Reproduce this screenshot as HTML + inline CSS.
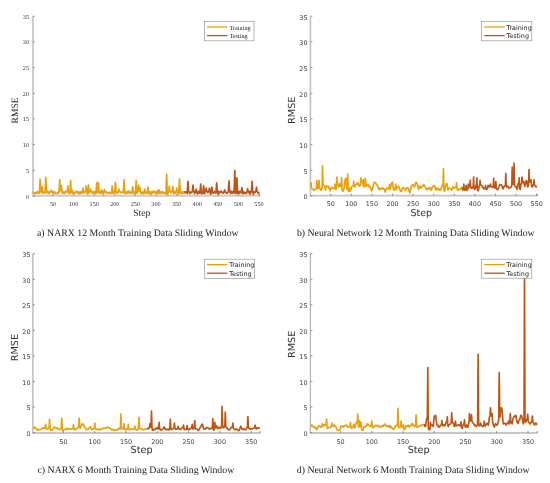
<!DOCTYPE html>
<html lang="en"><head><meta charset="utf-8"><title>RMSE sliding window figure</title>
<style>
html,body{margin:0;padding:0;background:#fff}
body{width:550px;height:483px;overflow:hidden}
svg{display:block}
text{text-rendering:geometricPrecision}
</style></head><body>
<svg width="550" height="483" viewBox="0 0 550 483">
<defs><filter id="soft" x="-5%" y="-5%" width="110%" height="110%" filterUnits="objectBoundingBox"><feGaussianBlur stdDeviation="0.3"/></filter></defs>
<rect width="550" height="483" fill="#fff"/>
<g id="plot-a">
<path d="M32.9 16.2V195.7H260.1" fill="none" stroke="#cbcbcb" stroke-width="1.9"/>
<path d="M32.9 196.0h2M32.9 170.3h2M32.9 144.6h2M32.9 118.9h2M32.9 93.3h2M32.9 67.6h2M32.9 41.9h2M32.9 16.2h2M53.0 195.7v-2M73.6 195.7v-2M94.2 195.7v-2M114.8 195.7v-2M135.4 195.7v-2M156.0 195.7v-2M176.6 195.7v-2M197.2 195.7v-2M217.8 195.7v-2M238.4 195.7v-2M259.0 195.7v-2M259.7 195.7v-2" fill="none" stroke="#6a6a6a" stroke-width="0.7"/>
<g style="font-family:'Liberation Serif','DejaVu Serif',serif;font-size:6.2px" fill="#2e2e2e">
<text x="29.0" y="198.5" text-anchor="end">0</text>
<text x="29.0" y="172.8" text-anchor="end">5</text>
<text x="29.0" y="147.1" text-anchor="end">10</text>
<text x="29.0" y="121.4" text-anchor="end">15</text>
<text x="29.0" y="95.8" text-anchor="end">20</text>
<text x="29.0" y="70.1" text-anchor="end">25</text>
<text x="29.0" y="44.4" text-anchor="end">30</text>
<text x="29.0" y="18.7" text-anchor="end">35</text>
<text x="53.0" y="206.0" text-anchor="middle">50</text>
<text x="73.6" y="206.0" text-anchor="middle">100</text>
<text x="94.2" y="206.0" text-anchor="middle">150</text>
<text x="114.8" y="206.0" text-anchor="middle">200</text>
<text x="135.4" y="206.0" text-anchor="middle">250</text>
<text x="156.0" y="206.0" text-anchor="middle">300</text>
<text x="176.6" y="206.0" text-anchor="middle">350</text>
<text x="197.2" y="206.0" text-anchor="middle">400</text>
<text x="217.8" y="206.0" text-anchor="middle">450</text>
<text x="238.4" y="206.0" text-anchor="middle">500</text>
<text x="259.0" y="206.0" text-anchor="middle">550</text>
</g>
<text x="141.8" y="215.9" text-anchor="middle" style="font-family:'Liberation Serif','DejaVu Serif',serif;font-size:9.6px" fill="#1e1e1e">Step</text>
<text transform="translate(18.1 110.4) rotate(-90)" text-anchor="middle" style="font-family:'Liberation Serif','DejaVu Serif',serif;font-size:9.6px" fill="#1e1e1e">RMSE</text>
<polyline points="32.9,192.9 33.4,192.1 33.8,192.4 34.3,193.6 34.7,193.6 35.2,193.6 35.6,192.7 36.1,193.4 36.5,192.2 37.0,192.3 37.4,192.6 37.9,191.6 38.3,193.4 38.8,193.0 39.2,193.3 39.6,189.2 40.1,179.3 40.6,189.9 41.0,192.2 41.5,192.4 41.8,191.0 42.3,186.5 42.8,191.4 43.3,193.6 43.7,192.1 44.2,193.0 44.6,192.6 45.1,191.8 45.2,188.7 45.8,177.3 46.3,189.5 46.4,193.1 46.9,192.4 47.3,191.9 47.8,191.3 48.2,192.7 48.7,193.4 49.1,193.6 49.6,191.8 50.0,191.6 50.5,192.0 51.0,191.9 51.5,190.1 52.0,192.1 52.3,192.3 52.7,191.7 53.2,192.6 53.6,193.6 54.1,192.1 54.5,191.7 55.0,192.8 55.4,193.7 55.9,193.3 56.3,193.6 56.8,193.4 57.2,192.8 57.7,193.5 58.1,192.4 58.6,191.7 59.0,193.0 59.2,189.4 59.8,179.8 60.3,190.0 60.8,190.8 61.3,185.5 61.8,191.2 62.2,192.8 62.6,191.4 63.1,193.3 63.5,193.2 64.0,192.3 64.4,193.7 64.9,192.8 65.3,191.4 65.8,192.5 66.2,192.1 66.7,191.5 67.1,191.6 67.2,190.9 67.8,186.0 68.3,191.3 68.5,192.8 68.9,193.5 69.4,193.6 69.8,193.2 70.0,189.5 70.6,180.4 71.1,190.1 71.6,192.9 71.8,191.9 72.3,190.1 72.8,192.1 73.0,193.7 73.4,193.5 73.9,193.7 74.3,192.2 74.8,193.1 75.2,192.8 75.7,191.6 76.2,192.2 76.7,191.1 77.2,192.3 77.5,192.6 77.9,193.5 78.4,192.9 78.8,191.7 79.3,193.7 79.7,192.4 80.2,193.7 80.6,192.4 81.1,191.6 81.5,193.1 82.0,193.3 82.5,191.4 83.0,188.1 83.5,191.7 83.8,192.4 84.2,192.9 84.7,191.7 85.1,191.6 85.6,191.7 85.7,190.9 86.2,186.0 86.8,191.3 86.9,193.2 87.4,194.1 87.8,193.7 88.0,190.6 88.5,185.0 89.0,191.1 89.2,193.1 89.6,191.4 89.9,191.7 90.4,189.1 91.0,191.9 91.4,191.4 91.9,191.4 92.3,193.2 92.8,193.2 93.2,192.2 93.7,191.7 94.1,192.1 94.6,193.5 95.0,191.5 95.5,191.9 95.9,193.3 96.2,190.1 96.7,182.9 97.2,190.6 97.7,192.9 97.9,190.1 98.4,182.9 99.0,190.6 99.1,191.3 99.5,192.7 100.0,191.9 100.4,193.4 100.9,191.5 101.0,191.9 101.6,189.9 102.1,192.0 102.2,193.4 102.7,191.3 103.1,192.9 103.6,194.7 103.9,191.8 104.4,189.6 105.0,192.0 105.4,191.3 105.8,192.4 106.3,192.7 106.7,191.7 107.2,193.1 107.6,193.1 108.1,193.1 108.5,193.4 109.0,192.9 109.4,192.3 109.9,192.7 110.3,192.5 110.8,193.7 111.2,192.6 111.7,190.9 112.2,186.0 112.8,191.3 113.0,193.7 113.5,193.3 113.9,191.9 114.4,192.9 114.9,190.0 115.4,182.4 116.0,190.5 116.2,192.4 116.6,193.5 117.1,193.1 117.5,191.8 118.0,192.3 118.5,191.7 119.0,189.1 119.5,191.9 119.8,191.5 120.2,192.2 120.7,192.5 121.1,192.6 121.6,192.6 122.0,192.0 122.5,191.4 122.9,192.4 123.4,191.7 123.5,189.4 124.1,179.8 124.6,190.0 124.7,193.4 125.2,193.6 125.6,193.6 126.1,191.8 126.5,193.4 127.0,192.1 127.4,191.6 127.9,193.2 128.0,192.2 128.5,191.1 129.1,192.3 129.2,192.7 129.7,191.3 130.1,193.3 130.6,192.5 131.0,193.2 131.5,193.2 131.9,192.4 132.0,191.0 132.6,186.5 133.2,191.4 133.3,193.7 133.7,192.2 134.2,193.6 134.6,191.8 135.1,193.5 135.5,193.6 135.6,189.6 136.2,180.6 136.8,190.2 136.9,193.1 137.3,192.7 137.8,191.7 138.1,190.6 138.7,185.0 139.2,191.1 139.4,191.3 140.0,187.6 140.6,191.6 140.9,193.4 141.4,192.3 141.8,193.5 142.3,192.0 142.7,193.6 143.2,192.2 143.6,193.5 144.1,193.6 144.2,191.7 144.8,189.1 145.4,191.9 145.4,192.6 145.9,192.4 146.3,193.1 146.8,192.4 147.2,193.5 147.4,191.2 148.0,187.0 148.6,191.5 149.0,193.6 149.5,193.0 149.9,191.9 150.4,192.5 150.8,194.2 151.2,194.4 151.7,191.9 152.1,193.3 152.6,191.4 153.0,191.7 153.5,192.5 153.9,192.8 154.0,192.2 154.6,191.1 155.2,192.3 155.3,192.0 155.7,192.9 156.2,192.0 156.6,192.7 157.1,193.6 157.2,191.9 157.8,190.1 158.4,192.1 158.4,193.6 158.5,191.9 159.1,190.1 159.7,192.1 159.8,193.1 160.2,193.5 160.7,191.6 161.1,193.0 161.6,193.0 162.0,193.3 162.5,193.1 162.9,191.3 163.4,193.1 163.8,193.0 164.3,193.7 164.7,192.6 165.2,193.2 165.6,193.7 166.1,193.5 166.1,188.0 166.7,174.2 167.2,188.9 167.4,194.9 167.9,193.0 168.3,192.3 168.8,190.9 169.3,186.0 169.9,191.3 170.1,191.9 170.6,192.0 171.0,192.8 171.5,191.3 171.9,191.9 172.2,191.0 172.8,186.5 173.4,191.4 173.7,193.6 174.2,191.5 174.6,191.9 175.1,193.4 175.5,192.5 176.0,191.7 176.1,191.4 176.7,188.1 177.2,191.7 177.3,192.3 177.8,192.0 178.2,194.4 178.7,193.4 178.9,189.1 179.5,178.8 180.1,189.8 180.5,193.5 180.9,192.4 181.4,192.2 181.8,193.8 182.3,191.8 182.7,192.5 183.2,192.1 183.6,191.9 184.1,193.5 184.5,192.1" fill="none" stroke="#ECA008" stroke-width="1.65" stroke-linejoin="round" stroke-linecap="butt" filter="url(#soft)"/>
<polyline points="184.5,192.1 184.5,191.9 185.0,191.9 185.4,192.5 185.9,192.6 186.3,191.8 186.8,192.1 187.2,193.4 187.4,189.8 188.0,181.4 188.6,190.3 189.0,191.9 189.5,193.6 189.9,193.6 190.4,192.1 190.8,192.1 191.3,192.5 191.7,192.6 192.2,191.5 192.4,190.6 193.0,185.0 193.6,191.1 194.0,191.3 194.4,193.7 194.9,191.7 195.3,192.6 195.7,191.7 196.2,189.1 196.8,191.9 197.1,193.2 197.6,193.2 198.0,193.4 198.5,191.4 198.9,191.7 199.4,191.5 199.8,193.2 200.1,190.4 200.7,184.0 201.2,190.9 201.6,193.8 202.1,193.7 202.5,192.6 203.0,193.4 203.0,190.8 203.6,185.5 204.2,191.2 204.3,193.0 204.8,193.7 205.2,191.7 205.6,191.4 206.2,188.1 206.8,191.7 207.0,191.4 207.5,191.5 207.9,192.8 208.4,191.3 208.8,191.4 209.4,188.1 210.0,191.7 210.2,192.8 210.6,194.3 211.1,193.5 211.3,191.2 211.9,187.0 212.5,191.5 212.9,193.0 213.3,193.1 213.8,192.5 214.2,192.8 214.7,191.6 215.1,192.2 215.6,191.4 216.0,193.2 216.1,190.1 216.7,182.9 217.2,190.6 217.4,191.9 217.8,191.9 218.3,194.3 218.7,191.4 219.2,192.6 219.6,193.0 220.1,191.3 220.5,192.1 220.9,192.2 221.5,191.1 222.1,192.3 222.3,192.4 222.8,193.3 223.2,193.2 223.7,192.5 224.0,191.9 224.6,189.9 225.2,192.0 225.5,191.5 225.9,192.6 226.4,193.3 226.8,192.9 227.3,193.1 227.7,192.3 228.2,191.9 228.4,189.6 229.0,180.9 229.6,190.2 230.0,192.7 230.4,192.8 230.9,193.6 231.3,191.3 231.8,192.5 232.2,191.6 232.7,193.1 233.1,192.7 233.6,191.4 234.0,192.9 234.2,187.1 234.8,170.6 235.4,188.2 235.8,193.7 236.3,191.5 236.3,188.9 236.9,177.8 237.5,189.6 237.6,193.6 238.1,192.8 238.5,191.7 239.0,191.3 239.4,193.5 239.9,192.4 240.3,191.4 240.8,192.1 241.2,192.6 241.3,191.3 241.9,187.6 242.5,191.6 242.6,193.6 243.0,193.2 243.5,192.1 243.9,193.4 244.4,192.2 244.8,193.5 245.3,192.4 245.7,192.8 246.2,193.5 246.6,193.0 247.0,191.5 247.6,188.6 248.2,191.8 248.4,191.4 248.9,191.6 249.3,193.2 249.8,191.4 250.2,194.3 250.7,192.5 251.1,192.7 251.5,189.8 252.1,181.4 252.7,190.3 252.9,192.1 253.4,194.5 253.8,192.9 254.3,192.0 254.7,191.8 255.2,192.5 255.6,191.3 255.9,191.2 256.5,187.0 257.1,191.5 257.4,191.7 257.9,193.2 258.3,193.0 258.8,192.5 259.2,193.2" fill="none" stroke="#BE5512" stroke-width="1.65" stroke-linejoin="round" stroke-linecap="butt" filter="url(#soft)"/>
<rect x="204.3" y="21.6" width="49.7" height="19.2" fill="#fff" stroke="#8a8a8a" stroke-width="0.6"/>
<path d="M207.0 27.0h20.4" stroke="#ECA008" stroke-width="1.3"/>
<path d="M207.0 35.6h20.4" stroke="#BE5512" stroke-width="1.3"/>
<text x="229.5" y="29.5" style="font-family:'Liberation Serif','DejaVu Serif',serif;font-size:6.2px" fill="#222">Training</text>
<text x="229.5" y="38.1" style="font-family:'Liberation Serif','DejaVu Serif',serif;font-size:6.2px" fill="#222">Testing</text>
<text x="37.0" y="235.8" style="font-family:'Liberation Serif','DejaVu Serif',serif;font-size:9.8px" fill="#1a1a1a">a) NARX 12 Month Training Data Sliding Window</text>
</g>
<g id="plot-b">
<path d="M310.4 16.2V195.7H537.5" fill="none" stroke="#c4c4c4" stroke-width="1.7"/>
<path d="M310.4 196.0h2M310.4 170.3h2M310.4 144.6h2M310.4 118.9h2M310.4 93.3h2M310.4 67.6h2M310.4 41.9h2M310.4 16.2h2M330.7 195.7v-2M351.3 195.7v-2M371.9 195.7v-2M392.5 195.7v-2M413.1 195.7v-2M433.7 195.7v-2M454.3 195.7v-2M474.9 195.7v-2M495.5 195.7v-2M516.1 195.7v-2M536.7 195.7v-2M537.1 195.7v-2" fill="none" stroke="#6a6a6a" stroke-width="0.7"/>
<g style="font-family:'DejaVu Sans','Liberation Sans',sans-serif;font-size:6.4px" fill="#3a3a3a">
<text x="307.5" y="199.3" text-anchor="end">0</text>
<text x="307.5" y="173.6" text-anchor="end">5</text>
<text x="307.5" y="147.9" text-anchor="end">10</text>
<text x="307.5" y="122.2" text-anchor="end">15</text>
<text x="307.5" y="96.6" text-anchor="end">20</text>
<text x="307.5" y="70.9" text-anchor="end">25</text>
<text x="307.5" y="45.2" text-anchor="end">30</text>
<text x="307.5" y="19.5" text-anchor="end">35</text>
<text x="330.7" y="205.9" text-anchor="middle">50</text>
<text x="351.3" y="205.9" text-anchor="middle">100</text>
<text x="371.9" y="205.9" text-anchor="middle">150</text>
<text x="392.5" y="205.9" text-anchor="middle">200</text>
<text x="413.1" y="205.9" text-anchor="middle">250</text>
<text x="433.7" y="205.9" text-anchor="middle">300</text>
<text x="454.3" y="205.9" text-anchor="middle">350</text>
<text x="474.9" y="205.9" text-anchor="middle">400</text>
<text x="495.5" y="205.9" text-anchor="middle">450</text>
<text x="516.1" y="205.9" text-anchor="middle">500</text>
<text x="536.7" y="205.9" text-anchor="middle">550</text>
</g>
<text x="421.3" y="216.1" text-anchor="middle" style="font-family:'DejaVu Sans','Liberation Sans',sans-serif;font-size:9.5px" fill="#333">Step</text>
<text transform="translate(295.4 110.2) rotate(-90)" text-anchor="middle" style="font-family:'DejaVu Sans','Liberation Sans',sans-serif;font-size:9.7px" fill="#333">RMSE</text>
<polyline points="310.8,185.5 311.1,182.9 311.5,188.5 312.3,188.8 313.0,189.3 313.5,189.5 314.0,190.4 314.5,189.3 315.0,189.5 315.5,189.5 316.5,188.4 316.9,180.3 317.4,187.8 318.1,188.9 318.7,187.8 319.1,180.3 319.5,187.3 320.0,188.3 320.8,190.1 321.4,189.4 322.1,188.1 322.5,165.9 323.0,183.5 323.8,185.5 324.5,185.7 325.1,187.4 325.5,190.1 326.4,186.1 327.0,186.1 327.6,186.4 328.3,186.1 328.9,188.4 329.5,188.2 330.2,190.8 330.8,189.2 331.5,187.5 332.1,187.3 332.7,188.5 333.4,188.2 334.0,188.5 334.6,187.7 335.0,184.1 335.4,188.9 335.9,189.5 336.5,188.0 336.9,177.1 337.3,183.3 337.8,184.2 338.3,184.5 338.8,187.0 339.3,186.5 339.7,183.5 340.1,186.0 340.4,186.3 341.2,185.3 341.6,177.8 342.1,189.8 342.9,191.4 343.5,190.5 344.2,187.4 344.7,184.3 345.2,179.1 346.1,178.4 346.7,188.9 347.3,187.1 347.7,174.0 348.2,189.4 348.6,191.4 349.5,191.0 349.9,188.0 350.3,190.4 350.5,190.8 351.2,188.8 351.8,186.1 352.6,186.1 353.3,185.5 353.7,181.0 354.1,186.2 355.0,187.0 355.6,184.7 356.3,184.1 356.9,183.1 357.5,184.4 358.2,182.9 358.8,184.7 359.5,186.3 360.0,184.8 360.6,185.3 361.0,177.8 361.4,180.1 362.0,180.4 362.5,182.0 363.0,185.1 363.1,184.4 363.5,179.7 363.9,186.1 364.3,187.0 365.0,185.9 365.4,178.4 365.9,185.4 366.5,186.3 367.1,184.9 367.7,184.8 368.4,184.7 369.0,187.0 369.6,186.7 370.3,186.7 370.9,188.6 371.5,190.8 372.2,189.9 372.8,187.4 373.5,184.8 374.1,182.2 374.6,182.8 375.2,182.7 375.7,182.9 376.3,184.1 376.8,184.5 377.3,185.5 377.9,186.6 378.5,188.9 379.2,189.6 379.8,188.0 380.5,189.2 381.1,189.0 381.7,188.2 382.4,188.9 383.0,188.0 383.6,188.6 384.1,189.1 384.7,190.4 385.2,192.1 385.7,189.7 386.3,190.0 386.8,188.0 387.5,188.2 388.1,188.9 388.9,188.4 389.4,184.8 389.8,188.9 390.3,189.5 390.8,187.4 391.3,183.5 391.9,182.6 392.5,182.2 393.1,187.3 393.6,190.1 394.1,190.2 394.7,188.6 395.3,188.1 395.7,184.1 396.1,188.9 396.6,189.5 397.3,186.9 397.9,186.7 398.5,186.3 399.2,187.4 399.7,189.7 400.3,190.0 400.8,191.4 401.5,191.2 402.1,188.6 402.7,188.3 403.4,187.4 404.0,188.3 404.5,189.3 405.0,190.2 405.5,190.1 406.1,188.9 406.6,187.7 407.2,188.0 407.8,187.9 408.5,188.6 409.0,191.1 409.6,192.0 410.1,192.7 410.7,188.5 411.4,186.1 411.9,185.3 412.4,184.7 412.9,185.4 413.5,185.1 414.2,187.0 414.8,186.1 415.5,183.0 416.1,182.2 416.7,183.4 417.4,184.2 418.0,186.7 418.6,189.5 419.3,187.0 419.9,186.1 420.5,187.7 421.2,188.2 421.8,186.3 422.5,186.1 423.1,186.2 423.7,184.7 424.4,185.4 425.0,186.6 425.6,187.5 426.3,189.5 426.9,188.5 427.5,189.6 428.2,188.0 428.8,188.7 429.5,187.5 430.1,188.0 430.7,190.0 431.4,190.1 432.0,187.7 432.6,186.7 433.3,186.0 433.9,186.7 434.5,185.4 435.2,188.1 435.8,190.1 436.5,188.1 437.1,188.0 437.7,189.8 438.4,188.6 439.0,189.9 439.6,189.4 440.3,190.1 440.9,189.4 441.5,187.0 442.2,186.1 443.0,184.1 443.5,168.5 443.9,189.4 444.7,191.4 445.2,187.9 445.7,185.5 446.4,183.5 447.0,183.5 447.9,190.1 448.5,188.1 449.2,188.0 449.8,188.5 450.5,188.6 451.1,188.8 451.7,190.1 452.4,188.7 453.0,186.7 453.6,187.2 454.3,188.2 454.9,187.7 455.5,187.4 456.1,186.8 456.6,182.9 457.0,188.7 457.5,189.5 458.1,190.5 458.7,189.2 459.4,189.3 460.0,189.5 460.5,189.0 461.0,188.9 461.5,187.3 461.9,187.7" fill="none" stroke="#ECA008" stroke-width="1.65" stroke-linejoin="round" stroke-linecap="butt" filter="url(#soft)"/>
<polyline points="461.9,187.7 462.2,188.0 462.9,190.1 463.4,189.4 463.8,184.1 464.2,189.4 464.8,190.1 465.7,189.6 466.1,185.4 466.5,189.6 467.0,190.1 467.9,189.4 468.3,184.1 468.7,186.6 469.3,187.0 469.8,186.2 470.2,180.3 470.6,187.3 471.2,188.2 471.8,187.3 472.5,188.0 473.2,186.7 473.6,177.1 474.0,188.0 474.6,189.5 475.3,188.5 475.9,185.5 476.5,184.5 476.9,177.8 477.3,189.2 478.1,190.8 478.6,189.2 479.1,186.1 479.7,185.4 480.1,180.3 480.5,184.8 481.4,185.5 482.0,185.8 482.7,187.4 483.2,187.1 483.7,188.9 484.2,188.9 485.0,188.5 485.5,185.4 485.9,189.0 486.7,189.5 487.4,188.5 488.0,185.4 488.6,185.5 489.3,187.0 490.1,186.6 490.5,184.1 491.0,186.6 491.8,187.0 492.6,187.5 493.3,185.9 493.7,178.4 494.1,187.1 494.7,188.2 495.5,187.4 495.9,181.6 496.3,188.6 497.2,189.5 497.8,189.7 498.4,188.0 499.1,186.6 499.7,184.8 500.3,184.6 501.0,184.8 501.5,185.0 502.1,186.0 502.6,188.2 503.2,188.8 503.7,186.6 504.3,186.7 504.8,186.4 505.4,185.1 505.8,173.3 506.2,185.3 506.8,187.0 507.5,186.2 508.1,186.7 508.6,188.0 509.1,188.0 509.6,188.2 510.3,187.3 510.9,187.4 511.8,185.4 512.2,167.0 512.6,182.4 513.1,184.4 513.7,182.4 514.1,163.1 514.5,185.0 515.4,187.0 516.3,186.7 517.2,189.5 517.7,185.7 518.2,183.5 518.8,182.9 519.2,177.8 519.6,188.1 520.1,189.5 521.0,184.2 521.6,183.3 522.0,177.1 522.4,181.9 523.0,182.5 523.9,181.6 524.8,186.3 525.3,184.8 525.8,182.3 526.3,180.6 526.8,181.0 527.7,187.0 528.6,185.0 529.0,169.5 529.4,180.4 529.9,181.9 530.4,180.1 530.9,179.7 531.4,183.5 531.9,187.0 532.6,186.7 533.2,184.8 533.7,184.2 534.1,179.7 534.5,184.8 535.0,185.5 535.5,186.5 536.0,187.0 536.9,186.1" fill="none" stroke="#BE5512" stroke-width="1.65" stroke-linejoin="round" stroke-linecap="butt" filter="url(#soft)"/>
<rect x="481.6" y="21.6" width="50.2" height="19.2" fill="#fff" stroke="#8a8a8a" stroke-width="0.6"/>
<path d="M484.3 27.0h20.4" stroke="#ECA008" stroke-width="1.3"/>
<path d="M484.3 35.6h20.4" stroke="#BE5512" stroke-width="1.3"/>
<text x="506.5" y="29.5" style="font-family:'DejaVu Sans','Liberation Sans',sans-serif;font-size:6.4px" fill="#222">Training</text>
<text x="506.5" y="38.1" style="font-family:'DejaVu Sans','Liberation Sans',sans-serif;font-size:6.4px" fill="#222">Testing</text>
<text x="296.9" y="235.8" style="font-family:'Liberation Serif','DejaVu Serif',serif;font-size:9.8px" fill="#1a1a1a">b) Neural Network 12 Month Training Data Sliding Window</text>
</g>
<g id="plot-c">
<path d="M32.9 253.7V433.0H260.4" fill="none" stroke="#c8c8c8" stroke-width="1.8"/>
<path d="M32.9 432.6h2M32.9 407.0h2M32.9 381.5h2M32.9 355.9h2M32.9 330.4h2M32.9 304.8h2M32.9 279.3h2M32.9 253.7h2M63.4 433.0v-2M94.7 433.0v-2M126.0 433.0v-2M157.3 433.0v-2M188.6 433.0v-2M219.9 433.0v-2M251.2 433.0v-2M260.0 433.0v-2" fill="none" stroke="#6a6a6a" stroke-width="0.7"/>
<g style="font-family:'DejaVu Sans','Liberation Sans',sans-serif;font-size:6.4px" fill="#3a3a3a">
<text x="30.5" y="435.9" text-anchor="end">0</text>
<text x="30.5" y="410.3" text-anchor="end">5</text>
<text x="30.5" y="384.8" text-anchor="end">10</text>
<text x="30.5" y="359.2" text-anchor="end">15</text>
<text x="30.5" y="333.7" text-anchor="end">20</text>
<text x="30.5" y="308.1" text-anchor="end">25</text>
<text x="30.5" y="282.6" text-anchor="end">30</text>
<text x="30.5" y="257.0" text-anchor="end">35</text>
<text x="63.4" y="443.7" text-anchor="middle">50</text>
<text x="94.7" y="443.7" text-anchor="middle">100</text>
<text x="126.0" y="443.7" text-anchor="middle">150</text>
<text x="157.3" y="443.7" text-anchor="middle">200</text>
<text x="188.6" y="443.7" text-anchor="middle">250</text>
<text x="219.9" y="443.7" text-anchor="middle">300</text>
<text x="251.2" y="443.7" text-anchor="middle">350</text>
</g>
<text x="141.6" y="453.1" text-anchor="middle" style="font-family:'DejaVu Sans','Liberation Sans',sans-serif;font-size:9.7px" fill="#333">Step</text>
<text transform="translate(17.7 347.6) rotate(-90)" text-anchor="middle" style="font-family:'DejaVu Sans','Liberation Sans',sans-serif;font-size:9.7px" fill="#333">RMSE</text>
<polyline points="33.3,428.8 34.0,427.8 34.6,426.9 35.2,427.8 35.8,428.6 36.3,428.7 36.9,429.9 37.5,429.3 38.0,429.7 38.5,429.5 39.1,430.0 39.6,429.8 40.2,429.6 40.7,429.5 41.2,429.3 41.7,429.1 42.3,428.3 42.8,428.4 43.3,428.2 43.9,427.6 44.5,428.4 45.1,427.7 45.6,424.3 46.1,428.5 46.6,428.2 47.1,429.1 47.6,429.1 48.1,428.0 48.6,428.4 49.1,427.9 49.6,419.2 50.1,429.0 50.7,430.3 51.2,429.9 51.7,429.8 52.3,430.1 52.8,429.5 53.5,428.0 54.1,427.2 54.7,426.9 55.4,428.1 56.0,428.4 56.6,428.3 57.3,427.7 57.9,428.1 58.5,429.2 59.2,429.7 59.8,429.7 60.5,428.5 61.2,428.3 61.7,418.0 62.2,429.4 62.6,431.0 63.2,430.5 63.8,429.8 64.3,429.6 64.9,429.5 65.4,429.5 65.9,428.8 66.4,429.3 66.9,428.4 67.5,428.8 68.1,428.5 68.7,429.3 69.4,429.1 69.9,428.9 70.4,428.9 70.9,429.0 71.4,428.8 71.9,428.8 72.4,428.4 72.9,428.3 73.4,424.6 73.9,429.1 74.5,429.7 75.0,428.8 75.5,429.4 76.0,429.3 76.5,429.1 77.0,428.2 77.6,428.0 78.1,427.2 78.7,427.0 79.2,418.0 79.7,427.2 80.2,428.4 80.8,426.7 81.5,425.5 82.1,423.7 82.7,424.2 83.4,424.4 84.0,425.5 84.6,427.5 85.3,427.9 85.9,428.8 86.5,429.7 87.2,429.4 87.8,429.5 88.5,428.8 89.1,428.2 89.7,427.0 90.4,426.9 91.0,428.8 91.6,429.9 92.3,429.5 92.9,429.2 93.5,428.8 94.3,428.1 94.8,423.1 95.3,428.7 96.1,429.5 96.6,429.1 97.2,429.4 97.7,429.5 98.3,429.4 98.9,429.9 99.4,429.1 100.0,429.7 100.5,429.7 101.2,429.0 101.8,429.3 102.5,428.8 103.1,428.0 103.7,428.1 104.4,428.1 105.0,428.1 105.6,428.4 106.3,428.2 106.9,427.0 107.5,427.1 108.2,427.4 108.8,427.5 109.5,428.2 110.1,428.3 110.7,429.0 111.4,429.5 112.0,430.0 112.6,429.4 113.3,429.5 113.9,430.3 114.5,429.6 115.2,430.3 115.8,430.5 116.5,430.0 117.1,430.1 117.7,429.1 118.4,429.1 119.0,428.1 119.9,429.1 120.4,427.3 120.9,414.1 121.4,427.1 121.9,428.8 122.8,429.1 123.6,428.4 124.1,423.7 124.6,428.8 125.0,429.5 125.5,430.0 126.1,429.0 126.6,429.7 127.2,429.1 127.8,429.0 128.3,424.3 128.8,428.8 129.2,429.5 129.8,429.8 130.5,429.3 131.1,429.5 131.7,429.1 132.2,428.9 132.8,428.9 133.4,429.5 133.9,429.4 134.4,429.1 134.9,426.2 135.4,429.1 135.9,429.5 136.5,430.0 137.1,430.1 137.7,429.5 138.5,428.0 139.0,417.3 139.5,427.4 140.0,428.8 140.6,429.0 141.3,428.7 141.9,429.5 142.4,429.2 142.9,429.8 143.4,429.9 143.9,429.6 144.5,429.5 145.0,429.0 145.5,429.2 146.0,429.0 146.5,429.1 147.0,428.8 147.0,428.8" fill="none" stroke="#ECA008" stroke-width="1.65" stroke-linejoin="round" stroke-linecap="butt" filter="url(#soft)"/>
<polyline points="147.0,428.8 147.6,428.3 148.3,428.9 148.9,428.2 149.4,427.6 149.9,423.7 150.4,426.7 150.6,427.1 151.0,425.2 151.5,411.0 152.0,428.3 152.5,430.3 153.0,430.5 153.5,429.3 154.0,429.4 154.6,429.0 155.3,429.6 155.9,429.1 156.5,428.0 157.2,427.5 158.1,429.1 158.6,428.3 159.1,422.4 159.6,428.6 160.1,429.5 160.6,430.1 161.1,429.6 161.6,429.7 162.3,429.5 162.9,428.8 163.5,428.1 164.2,426.9 164.7,427.8 165.2,429.5 165.7,429.2 166.2,429.2 166.7,429.7 167.2,429.7 167.7,429.5 168.3,429.0 168.8,429.9 169.3,429.5 169.8,428.2 170.3,419.2 170.8,428.4 171.2,429.7 171.7,429.3 172.3,428.8 172.8,428.8 173.4,428.4 173.9,428.1 174.4,423.1 174.9,428.1 175.4,428.8 175.9,429.5 176.4,429.0 176.9,429.1 177.7,428.7 178.2,426.2 178.7,428.7 179.2,429.1 179.7,429.1 180.2,429.4 180.7,428.8 181.2,428.9 181.7,428.3 182.3,427.5 183.0,427.2 183.5,425.0 184.0,429.1 184.5,429.7 185.2,429.5 185.8,429.5 186.6,429.0 187.1,425.6 187.6,429.2 188.1,429.7 188.6,429.5 189.1,429.6 189.6,428.8 190.3,428.8 190.9,428.2 191.7,427.7 192.2,424.3 192.7,428.5 193.2,429.1 193.7,428.6 194.2,428.0 194.7,420.5 195.2,427.8 195.7,428.8 196.3,428.8 196.8,429.1 197.3,429.5 197.9,430.2 198.5,430.3 199.2,429.5 199.8,427.9 200.5,427.5 201.1,426.2 201.7,424.4 202.6,424.3 203.1,427.1 203.6,428.8 204.3,429.2 204.9,428.8 205.4,428.9 205.9,428.4 206.4,427.5 207.1,427.6 207.7,427.5 208.3,428.4 208.8,428.4 209.4,429.1 210.0,428.5 210.6,428.7 211.3,428.8 211.8,428.0 212.3,427.6 212.8,418.6 213.3,428.9 213.8,430.3 214.3,429.4 214.8,422.4 215.3,427.1 215.7,427.8 216.1,427.5 216.6,425.6 217.1,428.1 217.9,428.4 218.4,428.2 218.9,426.9 219.5,427.9 220.2,428.4 220.7,428.0 221.2,427.5 221.6,425.5 222.1,406.3 222.6,425.8 223.1,427.8 224.0,427.5 224.8,425.7 225.3,412.2 225.8,425.7 226.3,427.5 226.8,428.3 227.3,428.4 227.8,429.5 228.5,429.6 229.1,429.9 229.7,429.7 230.3,428.8 230.8,428.0 231.4,427.5 231.9,427.2 232.4,427.0 232.9,423.1 233.4,428.1 233.9,428.8 234.4,428.9 234.9,429.6 235.5,429.7 236.0,429.2 236.5,429.0 237.1,429.4 237.6,429.6 238.2,430.5 238.7,430.7 239.4,429.8 240.0,428.2 240.9,426.2 241.4,427.7 241.9,428.8 242.5,429.6 243.2,429.1 243.8,429.5 244.5,429.0 245.1,429.6 245.7,429.7 246.4,428.6 247.0,427.5 247.4,426.2 247.9,416.7 248.4,426.8 248.9,428.2 249.5,428.2 250.2,429.1 250.8,429.2 251.5,428.7 252.1,428.8 252.6,428.3 253.1,428.2 253.6,428.2 254.5,427.8 255.0,425.0 255.5,428.0 255.9,428.4 256.4,428.9 256.9,427.6 257.4,428.1 258.1,428.1 258.7,428.4 259.2,427.7 259.7,427.5" fill="none" stroke="#BE5512" stroke-width="1.65" stroke-linejoin="round" stroke-linecap="butt" filter="url(#soft)"/>
<rect x="204.3" y="259.2" width="50.4" height="19.2" fill="#fff" stroke="#8a8a8a" stroke-width="0.6"/>
<path d="M207.0 264.6h20.4" stroke="#ECA008" stroke-width="1.3"/>
<path d="M207.0 273.2h20.4" stroke="#BE5512" stroke-width="1.3"/>
<text x="229.2" y="267.1" style="font-family:'DejaVu Sans','Liberation Sans',sans-serif;font-size:6.4px" fill="#222">Training</text>
<text x="229.2" y="275.7" style="font-family:'DejaVu Sans','Liberation Sans',sans-serif;font-size:6.4px" fill="#222">Testing</text>
<text x="37.5" y="473.4" style="font-family:'Liberation Serif','DejaVu Serif',serif;font-size:9.8px" fill="#1a1a1a">c) NARX 6 Month Training Data Sliding Window</text>
</g>
<g id="plot-d">
<path d="M310.4 253.7V433.0H537.5" fill="none" stroke="#b6b6b6" stroke-width="1.3"/>
<path d="M310.4 432.6h2M310.4 407.0h2M310.4 381.5h2M310.4 355.9h2M310.4 330.4h2M310.4 304.8h2M310.4 279.3h2M310.4 253.7h2M340.6 433.0v-2M371.8 433.0v-2M403.1 433.0v-2M434.3 433.0v-2M465.6 433.0v-2M496.8 433.0v-2M528.0 433.0v-2M537.1 433.0v-2" fill="none" stroke="#6a6a6a" stroke-width="0.7"/>
<g style="font-family:'DejaVu Sans','Liberation Sans',sans-serif;font-size:6.4px" fill="#3a3a3a">
<text x="307.5" y="435.9" text-anchor="end">0</text>
<text x="307.5" y="410.3" text-anchor="end">5</text>
<text x="307.5" y="384.8" text-anchor="end">10</text>
<text x="307.5" y="359.2" text-anchor="end">15</text>
<text x="307.5" y="333.7" text-anchor="end">20</text>
<text x="307.5" y="308.1" text-anchor="end">25</text>
<text x="307.5" y="282.6" text-anchor="end">30</text>
<text x="307.5" y="257.0" text-anchor="end">35</text>
<text x="340.6" y="443.7" text-anchor="middle">50</text>
<text x="371.8" y="443.7" text-anchor="middle">100</text>
<text x="403.1" y="443.7" text-anchor="middle">150</text>
<text x="434.3" y="443.7" text-anchor="middle">200</text>
<text x="465.6" y="443.7" text-anchor="middle">250</text>
<text x="496.8" y="443.7" text-anchor="middle">300</text>
<text x="528.0" y="443.7" text-anchor="middle">350</text>
</g>
<text x="418.7" y="453.1" text-anchor="middle" style="font-family:'DejaVu Sans','Liberation Sans',sans-serif;font-size:9.7px" fill="#333">Step</text>
<text transform="translate(295.4 344.4) rotate(-90)" text-anchor="middle" style="font-family:'DejaVu Sans','Liberation Sans',sans-serif;font-size:9.7px" fill="#333">RMSE</text>
<polyline points="310.8,426.9 311.7,425.0 312.4,425.2 313.0,426.5 313.6,427.1 314.3,427.2 314.9,426.9 315.5,428.7 316.2,428.0 316.8,429.7 317.5,427.7 318.1,426.9 318.7,425.7 319.4,426.2 320.0,426.0 320.6,427.1 321.2,427.5 321.8,426.7 322.3,423.7 322.8,425.6 323.6,425.9 324.1,424.7 324.6,425.4 325.1,425.0 325.6,424.0 326.1,424.3 326.6,419.2 327.1,427.3 327.6,428.4 328.3,427.5 328.9,427.5 329.5,427.2 330.2,427.1 330.8,427.7 331.3,426.7 331.8,423.1 332.3,425.3 333.0,425.6 333.5,426.1 334.1,424.9 334.6,426.3 335.2,426.2 335.7,426.3 336.3,427.5 336.8,429.4 337.3,430.1 337.8,430.3 338.3,430.5 338.8,430.5 339.3,430.3 339.9,429.6 340.4,428.7 341.0,426.2 341.6,427.0 342.3,425.8 342.9,426.5 343.5,427.1 344.2,425.9 344.8,425.6 345.4,426.0 345.9,425.3 346.5,425.0 347.0,425.5 347.5,426.1 348.0,427.1 348.6,426.9 349.3,426.9 350.0,426.4 350.5,422.4 351.0,427.7 351.6,428.4 352.2,427.2 352.8,426.9 353.2,426.6 353.7,424.3 354.2,427.4 355.0,427.8 355.6,424.2 356.3,422.5 356.8,422.7 357.3,421.5 357.8,414.1 358.3,425.6 358.6,427.1 359.0,426.3 359.5,420.5 360.0,425.8 360.3,426.5 360.6,426.0 361.1,422.4 361.6,429.0 362.1,430.2 362.6,429.9 363.3,429.6 363.9,426.9 364.5,427.2 365.2,426.6 365.8,426.3 366.5,426.0 367.1,423.7 367.7,423.7 368.4,425.1 369.0,425.6 369.5,425.8 370.0,425.4 370.5,426.5 371.3,425.9 371.8,421.1 372.3,427.0 372.8,427.8 373.5,426.6 374.1,426.9 374.6,426.5 375.2,425.5 375.7,425.6 376.3,425.5 376.8,425.9 377.4,425.4 377.9,425.6 378.5,425.5 379.2,427.1 379.8,427.0 380.5,426.3 381.1,426.9 381.7,426.1 382.4,425.9 383.0,426.5 383.6,425.5 384.3,424.0 384.9,424.3 385.5,425.2 386.2,426.4 386.8,425.9 387.5,425.7 388.1,426.6 388.7,426.2 389.4,427.5 390.0,425.6 390.6,426.9 391.3,426.5 391.9,428.5 392.5,428.2 393.2,429.4 393.8,429.1 394.5,428.3 395.1,426.9 395.7,425.7 396.4,425.9 397.0,425.6 397.5,423.6 398.0,408.4 398.5,425.8 399.0,427.8 399.9,427.5 400.6,426.8 401.1,421.1 401.6,426.4 402.1,427.1 402.9,426.9 403.4,425.0 403.9,429.1 404.6,429.7 405.3,428.5 405.9,425.6 406.5,426.5 407.2,426.4 407.8,425.6 408.5,425.2 409.1,427.1 409.7,426.5 410.4,425.5 411.0,425.6 411.6,424.4 412.1,423.5 412.7,425.5 413.2,424.3 413.9,425.7 414.6,426.5 415.1,426.3 415.6,425.1 416.1,414.8 416.6,425.7 417.0,427.1 417.5,426.4 418.1,427.3 418.6,426.9 419.3,426.4 419.9,425.6 420.5,425.7 421.2,425.0 421.8,425.2 422.4,425.7 423.0,424.7 423.5,424.5 424.1,425.0" fill="none" stroke="#ECA008" stroke-width="1.65" stroke-linejoin="round" stroke-linecap="butt" filter="url(#soft)"/>
<polyline points="424.1,425.0 424.1,425.0 424.6,424.7 425.1,426.4 425.6,426.5 426.5,419.3 427.3,417.3 427.8,367.6 428.3,427.9 429.1,429.9 430.0,429.0 430.5,422.4 431.0,425.3 431.7,425.6 432.3,425.0 432.8,425.6 433.3,426.5 433.8,420.3 434.3,416.1 434.9,416.1 435.6,415.4 436.2,420.0 436.8,424.4 437.3,425.3 437.9,425.0 438.4,426.9 439.0,426.9 439.6,427.1 440.3,425.7 440.9,425.0 441.4,424.5 441.9,420.5 442.4,425.2 442.9,425.9 443.5,424.8 444.0,424.5 444.5,425.6 445.1,425.6 445.7,423.1 446.3,421.8 446.8,422.3 447.3,416.7 447.8,425.3 448.3,426.5 448.8,425.3 449.3,424.5 449.8,424.4 450.5,423.9 451.2,423.0 451.7,412.9 452.2,421.3 453.0,422.5 453.6,423.5 454.3,426.5 455.0,425.9 455.5,421.1 456.0,425.3 456.8,425.9 457.5,425.3 458.1,425.0 458.7,424.8 459.4,425.2 459.9,425.8 460.5,424.8 461.0,421.8 461.5,427.6 462.3,428.4 462.9,425.2 463.6,424.4 464.0,423.8 464.5,419.9 465.0,426.3 465.5,427.1 466.1,426.9 466.6,425.0 467.1,426.9 467.9,427.1 468.4,424.4 468.9,422.5 469.0,421.4 469.5,413.5 470.0,419.9 470.6,420.8 471.0,420.1 471.5,414.8 472.0,421.5 472.7,422.5 473.4,423.4 474.0,424.4 474.6,425.8 475.3,425.0 475.9,425.8 476.5,426.5 477.1,425.4 477.6,424.5 478.1,354.3 478.6,423.9 479.3,425.9 480.1,425.5 480.6,423.1 481.1,425.3 481.9,425.6 482.5,426.5 483.2,426.5 483.7,425.9 484.2,421.1 484.7,425.3 485.5,425.9 486.1,424.3 486.7,423.7 487.2,423.1 487.7,424.7 488.3,425.2 488.8,422.3 489.3,417.4 490.0,416.2 490.5,407.8 491.0,414.7 491.4,415.7 491.6,415.4 492.1,413.5 492.6,422.5 493.1,423.7 493.7,426.0 494.4,427.1 495.0,424.8 495.6,423.7 496.3,424.9 496.9,425.2 497.5,424.4 498.2,421.8 498.7,419.8 499.2,372.7 499.7,415.0 500.1,417.0 500.7,407.8 501.4,407.9 502.0,409.1 502.6,416.7 503.3,424.0 503.9,423.2 504.5,423.1 505.2,423.5 505.8,425.2 506.3,424.2 506.8,423.5 507.3,423.7 507.9,423.4 508.4,421.1 508.9,423.6 509.4,424.0 509.8,422.7 510.3,413.5 510.8,421.4 511.2,422.5 511.7,422.9 512.2,424.0 512.8,419.6 513.5,417.4 514.0,416.9 514.5,415.9 515.0,416.7 515.5,416.7 516.0,415.4 516.9,421.8 517.5,422.8 518.2,423.3 518.8,420.4 519.5,419.9 520.1,418.3 520.7,415.4 521.4,415.6 522.0,417.4 522.6,420.6 523.3,424.0 524.0,422.0 524.5,275.4 525.0,420.1 525.8,422.1 526.5,419.9 527.2,419.2 527.7,414.1 528.2,421.5 529.0,422.5 529.6,423.3 530.3,424.0 530.9,422.5 531.5,421.8 531.9,421.1 532.4,416.1 532.9,422.2 533.5,423.1 534.0,423.7 534.5,425.2 535.0,424.0 535.6,423.1 536.3,423.2 536.9,425.0" fill="none" stroke="#BE5512" stroke-width="1.65" stroke-linejoin="round" stroke-linecap="butt" filter="url(#soft)"/>
<rect x="481.6" y="259.2" width="50.2" height="19.0" fill="#fff" stroke="#8a8a8a" stroke-width="0.6"/>
<path d="M484.3 264.6h20.4" stroke="#ECA008" stroke-width="1.3"/>
<path d="M484.3 273.2h20.4" stroke="#BE5512" stroke-width="1.3"/>
<text x="506.5" y="267.1" style="font-family:'DejaVu Sans','Liberation Sans',sans-serif;font-size:6.4px" fill="#222">Training</text>
<text x="506.5" y="275.7" style="font-family:'DejaVu Sans','Liberation Sans',sans-serif;font-size:6.4px" fill="#222">Testing</text>
<text x="296.8" y="473.3" style="font-family:'Liberation Serif','DejaVu Serif',serif;font-size:9.8px" fill="#1a1a1a">d) Neural Network 6 Month Training Data Sliding Window</text>
</g>
</svg>
</body></html>
